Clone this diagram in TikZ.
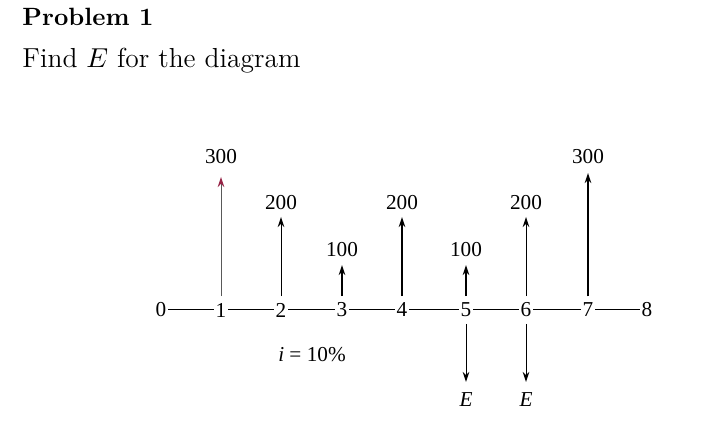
\documentclass[tikz,border=0pt]{standalone}
\usepackage{fontspec}
\newfontfamily\figfont{Liberation Serif}
\usetikzlibrary{arrows.meta}
\definecolor{tipred}{RGB}{150,35,70}
\tikzset{
  flow/.style={-{Stealth[length=4pt,width=2.6pt]}, shorten <=2pt},
  heavy/.style={line width=0.8pt},
  lbl/.style={font=\figfont\fontsize{8.5}{10}\selectfont, inner sep=0.5pt}
}

\begin{document}
\begin{tikzpicture}[x=0.4pt,y=0.4pt]
        \useasboundingbox (0,0) rectangle (705,437);
        \node[anchor=base west, font=\bfseries, inner sep=0pt] (title) at (22,411) {Problem 1};
        \node[anchor=base west, font=\fontsize{11}{13}\selectfont, inner sep=0pt] (task) at (22,369) {Find $E$ for the diagram};

        % time line
        \foreach \t/\x in {0/161,1/221,2/281,3/342,4/402,5/466,6/526,7/588,8/647}
            \node[lbl] (n\t) at (\x,127) {\t};
        \foreach \a/\b in {0/1,1/2,2/3,3/4,4/5,5/6,6/7,7/8}
            \draw[thin] (n\a) -- (n\b);

        % receipts
        \foreach \t/\v/\h/\l in {1/300/260/280,2/200/220/234,3/100/172/187,4/200/220/234,5/100/172/187,6/200/220/234,7/300/264/280}{
            \coordinate (u\t) at (n\t |- 0,\h);
            \node[lbl] (v\t) at (n\t |- 0,\l) {\v};
        }
        \draw[flow, thin, gray!70!black, -{Stealth[length=4pt,width=2.6pt,color=tipred]}] (n1.north) -- (u1);
        \draw[flow, thin] (n2.north) -- (u2);
        \draw[flow, heavy] (n3.north) -- (u3);
        \draw[flow, heavy] (n4.north) -- (u4);
        \draw[flow, heavy] (n5.north) -- (u5);
        \draw[flow, thin] (n6.north) -- (u6);
        \draw[flow, heavy] (n7.north) -- (u7);

        % payments
        \foreach \t in {5,6}{
            \coordinate (d\t) at (n\t |- 0,55);
            \draw[flow, thin] (n\t.south) -- (d\t);
            \node[lbl] (e\t) at (n\t |- 0,37) {\textit{E}};
        }

        \node[lbl] (rate) at (312,82) {\textit{i} = 10\%};
    \end{tikzpicture}
\end{document}
